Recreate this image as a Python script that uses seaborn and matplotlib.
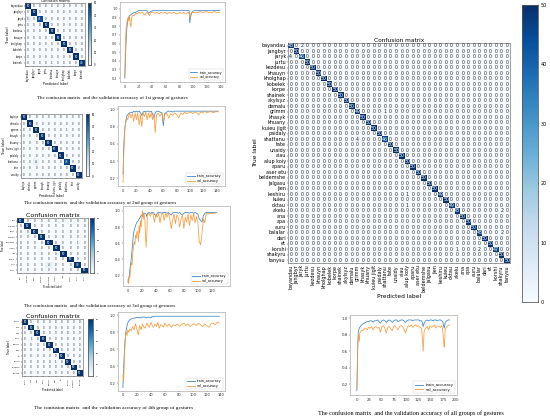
import numpy as np
import seaborn as sns
import matplotlib.pyplot as plt

# gesture names (40 classes, 4 groups of 10)
labels = ["bayandau", "jangbyr", "jaryk", "jurtu", "kezdesu", "khauyn", "kholghap", "kobelek", "korpe", "shainek",
          "akylsyz", "demalu", "grimm", "khasyk", "khuany", "kuieu jigit", "paidaly", "shattanu", "tate", "unaidy",
          "aiau", "alup koiy", "aparu", "aser etu", "beldemshe", "jalgasu", "jien", "keshiru", "kuieu", "oktau",
          "akelu", "ana", "apa", "auru", "balalar", "dari", "et", "korshi", "shakyru", "tanysu"]

# confusion matrices: diagonal counts and (row, col, count) errors
diag_all = [48, 50, 46, 50, 50, 50, 50, 50, 50, 50, 50, 50, 49, 50, 50, 50, 50, 46, 50, 50,
            50, 50, 50, 50, 50, 50, 50, 49, 50, 49, 48, 50, 50, 50, 48, 50, 50, 47, 50, 50]
err_all = [(0, 2, 2), (2, 0, 4), (12, 17, 1), (17, 12, 4), (27, 21, 1), (29, 21, 1),
           (30, 38, 2), (34, 38, 2), (37, 30, 1), (37, 34, 2)]

diag_g1 = [50, 50, 45, 50, 50, 50, 50, 50, 50, 49]
err_g1 = [(2, 0, 5), (9, 4, 1)]
diag_g2 = [50, 50, 50, 50, 50, 50, 50, 46, 50, 50]
err_g2 = [(7, 2, 4), (2, 7, 1)]
diag_g3 = [50, 50, 50, 50, 50, 50, 50, 50, 49, 50]
err_g3 = [(8, 4, 4), (4, 8, 1)]
diag_g4 = [50, 50, 50, 50, 50, 50, 50, 50, 50, 50]
err_g4 = [(3, 1, 1), (7, 5, 1)]

# accuracy curves, group 1
ep1 = [0, 1, 2, 3, 4, 5, 6, 7, 8, 9, 10, 12, 14, 16, 18, 20, 23, 26, 29, 32, 35, 36, 38,
       41, 44, 47, 50, 53, 56, 59, 62, 65, 68, 71, 74, 77, 80, 83, 86, 89, 92, 94, 95, 96, 98,
       101, 104, 107, 110, 113, 116, 119, 122, 125, 128, 131, 134, 137, 139]
train1 = [0.20, 0.45, 0.64, 0.77, 0.85, 0.89, 0.91, 0.92, 0.93, 0.93, 0.94, 0.95, 0.96, 0.96, 0.97, 0.98,
          0.98, 0.98, 0.98, 0.98, 0.95, 0.96, 0.97,
          0.98, 0.98, 0.98, 0.98, 0.98, 0.98, 0.98, 0.98, 0.98, 0.98, 0.98, 0.98, 0.98, 0.98, 0.98, 0.98, 0.98, 0.98,
          0.98, 0.84, 0.90, 0.96,
          0.98, 0.98, 0.98, 0.98, 0.98, 0.98, 0.98, 0.98, 0.98, 0.98, 0.98, 0.98, 0.98, 0.98]
val1 = [0.22, 0.60, 0.80, 0.84, 0.88, 0.90, 0.86, 0.91, 0.82, 0.79, 0.90, 0.93, 0.92, 0.95, 0.94, 0.96,
        0.95, 0.96, 0.93, 0.96, 0.94, 0.92, 0.96,
        0.96, 0.95, 0.96, 0.94, 0.96, 0.95, 0.96, 0.94, 0.96, 0.95, 0.96, 0.95, 0.94, 0.96, 0.95, 0.96, 0.94, 0.96,
        0.95, 0.90, 0.93, 0.96,
        0.96, 0.96, 0.96, 0.97, 0.96, 0.96, 0.97, 0.96, 0.96, 0.96, 0.97, 0.96, 0.96, 0.96]

# group 2
ep2 = [0, 1, 2, 3, 4, 5, 6, 7, 8, 10, 12, 14, 16, 18, 20, 22, 24, 26, 28, 30, 32, 34, 36, 38, 40, 42, 44, 46,
       48, 50, 52, 55, 58, 60, 62, 65, 68, 71, 74, 77, 80, 83, 86, 89, 92, 95, 98, 101, 104, 107, 110, 113,
       116, 119, 122, 125, 128, 131, 134, 137, 140, 142]
train2 = [0.25, 0.55, 0.72, 0.80, 0.86, 0.90, 0.93, 0.94, 0.95,
          0.96, 0.97, 0.96, 0.98, 0.97, 0.98, 0.97, 0.98, 0.96, 0.93, 0.97, 0.98, 0.97, 0.98, 0.98, 0.97, 0.98,
          0.95, 0.90, 0.96, 0.98, 0.98, 0.97, 0.96, 0.81, 0.95,
          0.97, 0.98, 0.98, 0.97, 0.98, 0.98, 0.98, 0.98, 0.98, 0.98, 0.98, 0.98, 0.98, 0.98, 0.98, 0.98, 0.98,
          0.98, 0.98, 0.98, 0.98, 0.98, 0.98, 0.98, 0.98, 0.98, 0.98]
val2 = [0.15, 0.45, 0.68, 0.80, 0.84, 0.87, 0.90, 0.88, 0.92,
        0.96, 0.90, 0.95, 0.86, 0.96, 0.88, 0.96, 0.82, 0.94, 0.80, 0.96, 0.92, 0.97, 0.88, 0.96, 0.90, 0.96,
        0.88, 0.95, 0.73, 0.94, 0.96, 0.92, 0.96, 0.86, 0.94,
        0.96, 0.90, 0.95, 0.93, 0.96, 0.94, 0.90, 0.96, 0.94, 0.97, 0.95, 0.96, 0.97, 0.95, 0.97, 0.96, 0.94,
        0.97, 0.96, 0.98, 0.96, 0.97, 0.98, 0.96, 0.97, 0.98, 0.97]

# group 3
ep3 = [0, 1, 2, 3, 4, 5, 6, 7, 8, 9, 10, 11, 12, 13, 14, 15, 16, 17, 18, 19, 20, 21, 22, 23, 24, 26, 27, 28,
       30, 32, 34, 36, 38, 40, 42, 44, 46, 48, 50, 52, 54, 56, 58, 60, 62, 64, 66, 68, 70, 72, 74, 76, 78, 80,
       82, 84, 86, 88, 90, 92, 94, 96, 98, 100, 102, 104, 106, 108, 110, 112, 115, 118, 121, 124, 127]
train3 = [0.12, 0.15, 0.20, 0.28, 0.35, 0.42, 0.52, 0.62, 0.72, 0.76, 0.79, 0.82, 0.84, 0.86, 0.87, 0.88,
          0.90, 0.91, 0.93, 0.94, 0.95, 0.93, 0.96, 0.97, 0.97, 0.96, 0.93, 0.97,
          0.98, 0.97, 0.98, 0.98, 0.96, 0.93, 0.97, 0.98, 0.98, 0.97, 0.98, 0.98, 0.98, 0.97, 0.98, 0.96,
          0.95, 0.97, 0.98, 0.98, 0.98, 0.97, 0.98, 0.96, 0.95, 0.97, 0.98, 0.98, 0.98, 0.97, 0.98, 0.98,
          0.97, 0.98, 0.97, 0.96, 0.90, 0.88, 0.86, 0.94, 0.97, 0.98, 0.98, 0.98, 0.98, 0.98, 0.98]
val3 = [0.15, 0.10, 0.20, 0.18, 0.30, 0.36, 0.33, 0.48, 0.55, 0.62, 0.58, 0.70, 0.66, 0.75, 0.72, 0.62,
        0.82, 0.72, 0.88, 0.80, 0.94, 1.00, 0.90, 0.97, 0.92, 0.55, 0.70, 0.95,
        0.97, 0.93, 0.97, 0.96, 0.86, 0.96, 0.92, 0.97, 0.85, 0.96, 0.97, 0.88, 0.97, 0.92, 0.98, 0.90,
        0.78, 0.88, 0.96, 0.84, 0.95, 0.92, 0.80, 0.90, 0.96, 0.78, 0.92, 0.86, 0.96, 0.82, 0.95, 0.88,
        0.97, 0.85, 0.93, 0.87, 0.62, 0.58, 0.72, 0.90, 0.85, 0.97, 0.96, 0.97, 0.97, 0.97, 0.98]

# group 4
ep4 = [0, 1, 2, 3, 4, 5, 6, 7, 8, 10, 12, 14, 16, 18, 20, 22, 24, 26, 28, 30, 32, 34, 36, 38, 40, 42, 44, 46,
       48, 50, 52, 54, 56, 58, 60, 63, 66, 69, 72, 75, 78, 81, 84, 87, 90, 93, 96, 99, 102, 105, 108, 111,
       114, 117, 120, 123, 126, 129, 132, 135, 138]
train4 = [0.15, 0.35, 0.55, 0.70, 0.79, 0.84, 0.88, 0.91, 0.93,
          0.95, 0.96, 0.96, 0.97, 0.97, 0.98, 0.97, 0.98, 0.97, 0.98, 0.98, 0.98, 0.97, 0.98, 0.98, 0.97, 0.99,
          0.98, 0.99, 0.99, 0.99, 0.99, 0.99, 0.99, 0.99, 0.99,
          0.99, 0.99, 0.99, 0.99, 0.99, 0.99, 0.99, 0.99, 0.99, 0.99, 0.99, 0.99, 0.99, 0.99, 0.99, 0.99, 0.99,
          0.99, 0.99, 0.99, 0.99, 0.99, 0.99, 0.99, 0.99, 0.99]
val4 = [0.30, 0.22, 0.45, 0.65, 0.78, 0.80, 0.76, 0.83, 0.80,
        0.84, 0.82, 0.87, 0.83, 0.90, 0.84, 0.77, 0.88, 0.83, 0.90, 0.86, 0.85, 0.91, 0.88, 0.86, 0.92, 0.88,
        0.86, 0.90, 0.87, 0.92, 0.85, 0.89, 0.88, 0.86, 0.91,
        0.87, 0.90, 0.86, 0.89, 0.88, 0.90, 0.87, 0.89, 0.91, 0.88, 0.90, 0.87, 0.89, 0.90, 0.88, 0.91, 0.89,
        0.87, 0.90, 0.88, 0.86, 0.90, 0.91, 0.89, 0.92, 0.91]

# all groups
epA = [0, 1, 2, 3, 4, 5, 6, 8, 10, 12, 15, 18, 21, 24, 27, 30, 33, 36, 39, 42, 45, 48, 51, 54, 57, 60, 63,
       66, 69, 72, 75, 78, 81, 84, 87, 90, 93, 96, 99, 102, 105, 108, 111, 114, 117, 120, 123, 126, 129, 132,
       134, 135, 137, 140, 143, 146, 149, 152, 155, 158, 161, 164, 167, 170, 173, 175, 177, 178, 180,
       183, 186, 189]
trainA = [0.12, 0.45, 0.72, 0.84, 0.86, 0.88, 0.89, 0.91, 0.92, 0.93,
          0.94, 0.95, 0.96, 0.96, 0.97, 0.97, 0.95, 0.97, 0.97, 0.98, 0.96, 0.94, 0.97, 0.98, 0.97, 0.95,
          0.97, 0.98, 0.97, 0.95, 0.97, 0.98, 0.98, 0.96, 0.97, 0.98, 0.98, 0.97, 0.95, 0.97, 0.98, 0.98,
          0.98, 0.97, 0.98, 0.98, 0.98, 0.98, 0.97, 0.97,
          0.93, 0.90, 0.94,
          0.97, 0.98, 0.97, 0.98, 0.98, 0.97, 0.98, 0.98, 0.97, 0.98, 0.98, 0.97,
          0.96, 0.90, 0.88, 0.95, 0.97, 0.98, 0.98]
valA = [0.15, 0.40, 0.68, 0.80, 0.78, 0.72, 0.82, 0.84, 0.86, 0.85,
        0.87, 0.88, 0.86, 0.89, 0.88, 0.90, 0.86, 0.89, 0.90, 0.88, 0.89, 0.83, 0.90, 0.91, 0.88, 0.82,
        0.89, 0.90, 0.87, 0.85, 0.90, 0.91, 0.88, 0.86, 0.90, 0.91, 0.90, 0.87, 0.82, 0.88, 0.91, 0.90,
        0.92, 0.89, 0.91, 0.92, 0.90, 0.91, 0.89, 0.88,
        0.70, 0.60, 0.84,
        0.88, 0.90, 0.86, 0.91, 0.89, 0.90, 0.92, 0.88, 0.91, 0.90, 0.89, 0.91,
        0.85, 0.70, 0.65, 0.86, 0.90, 0.91, 0.92]

captions = ["The confusion matrix  and the validation accuracy of 1st group of gestures",
            "The confusion matrix  and the validation accuracy of 2nd group of gestures",
            "The confusion matrix  and the validation accuracy of 3rd group of gestures",
            "The confusion matrix  and the validation accuracy of 4th group of gestures",
            "The confusion matrix  and the validation accuracy of all groups of gestures"]

W, H = 550, 419
fig = plt.figure(figsize=(W / 100, H / 100), dpi=100)


def rect(x0, y0, x1, y1):
    # pixel box -> figure fraction
    return [x0 / W, 1 - y1 / H, (x1 - x0) / W, (y1 - y0) / H]


def draw_cm(box, cbox, names, diag, errs, title, title_size, tick_size, annot_size, lab_size):
    n = len(names)
    m = np.zeros((n, n), dtype=int)
    for i, v in enumerate(diag):
        m[i, i] = v
    for r, c, v in errs:
        m[r, c] = v
    ax = fig.add_axes(rect(*box))
    cax = fig.add_axes(rect(*cbox))
    sns.heatmap(m, ax=ax, cbar_ax=cax, cmap="Blues", vmin=0, vmax=50, annot=True, fmt="d",
                annot_kws={"size": annot_size}, xticklabels=names, yticklabels=names)
    ax.set_title(title, fontsize=title_size, pad=1)
    ax.set_xticklabels(names, rotation=90)
    ax.set_yticklabels(names, rotation=0)
    ax.tick_params(labelsize=tick_size, length=1, width=0.3, pad=0.5)
    ax.set_xlabel("Predicted label", fontsize=lab_size, labelpad=1)
    ax.set_ylabel("True label", fontsize=lab_size, labelpad=0.5)
    for s in ax.spines.values():
        s.set_visible(True)
        s.set_linewidth(0.4)
        s.set_color("0.35")
    cax.set_yticks([0, 10, 20, 30, 40, 50])
    cax.tick_params(labelsize=max(tick_size, 1.6), length=1, width=0.3, pad=0.8)
    for s in cax.spines.values():
        s.set_visible(True)
        s.set_linewidth(0.4)
        s.set_color("0.35")


def draw_acc(box, ep, tr, va, xticks, yticks, xlim, ylim, fs=3):
    ax = fig.add_axes(rect(*box))
    sns.lineplot(x=ep, y=tr, ax=ax, color="#3a84c4", linewidth=0.55, label="train_accuracy")
    sns.lineplot(x=ep, y=va, ax=ax, color="#fb9a3c", linewidth=0.55, label="val_accuracy")
    ax.set_xlim(*xlim)
    ax.set_ylim(*ylim)
    ax.set_xticks(xticks)
    ax.set_yticks(yticks)
    ax.set_yticklabels([f"{v:.1f}" for v in yticks])
    ax.tick_params(labelsize=fs, length=1, width=0.3, pad=0.8, colors="0.2")
    for s in ax.spines.values():
        s.set_linewidth(0.4)
        s.set_color("0.6")
    ax.legend(loc="lower right", fontsize=fs * 0.95, handlelength=2.2, borderpad=0.4,
              labelspacing=0.2, framealpha=1, edgecolor="0.8", fancybox=False)
    leg = ax.get_legend()
    leg.get_frame().set_linewidth(0.3)
    for ln in leg.get_lines():
        ln.set_linewidth(0.6)


# small confusion matrices
draw_cm((25, 3, 85, 66), (88, 3, 91, 65), labels[0:10], diag_g1, err_g1, "Confusion matrix", 2.4, 1.8, 2.0, 2.4)
draw_cm((21, 114, 82, 178), (86, 114, 89, 176), labels[10:20], diag_g2, err_g2, "", 2.4, 1.8, 2.0, 2.4)
draw_cm((17, 218, 88, 273), (90, 218, 94, 273), labels[20:30], diag_g3, err_g3, "Confusion matrix", 4.5, 1.2, 2.0, 1.8)
draw_cm((22, 319, 83, 376), (88, 319, 93, 376), labels[30:40], diag_g4, err_g4, "Confusion matrix", 4.5, 1.5, 2.0, 2.0)

# big confusion matrix
draw_cm((288, 43, 510, 263), (522, 5, 538, 302), labels, diag_all, err_all, "Confusion matrix", 4.2, 3.5, 3.4, 4.2)

# accuracy curves
draw_acc((120, 2, 225, 82), ep1, train1, val1, range(0, 141, 20), [0.2, 0.3, 0.4, 0.5, 0.6, 0.7, 0.8, 0.9, 1.0],
         (-7, 146.5), (0.155, 1.08), fs=2.4)
draw_acc((118, 106, 225, 186), ep2, train2, val2, range(0, 141, 20), [0.2, 0.4, 0.6, 0.8, 1.0],
         (-7.5, 152), (0.11, 1.04), fs=2.6)
draw_acc((123, 206, 230, 286), ep3, train3, val3, range(0, 121, 20), [0.2, 0.4, 0.6, 0.8, 1.0],
         (-7, 146), (0.07, 1.06), fs=2.6)
draw_acc((118, 312, 225, 391), ep4, train4, val4, range(0, 141, 20), [0.2, 0.4, 0.6, 0.8, 1.0],
         (-7, 146), (0.11, 1.04), fs=2.6)
draw_acc((350, 315, 457, 395), epA, trainA, valA, range(0, 201, 25), [0.2, 0.4, 0.6, 0.8, 1.0],
         (-14, 204), (0.07, 1.04), fs=2.8)

# captions
cap_pos = [(112, 98), (100, 203), (100, 306), (114, 408), (411, 413)]
cap_size = [3.6, 3.6, 3.6, 3.8, 4.4]
for txt, (cx, cy), fs in zip(captions, cap_pos, cap_size):
    fig.text(cx / W, 1 - cy / H, txt, ha="center", va="center", fontsize=fs, family="Liberation Serif")

fig.savefig("out.png", dpi=100)
